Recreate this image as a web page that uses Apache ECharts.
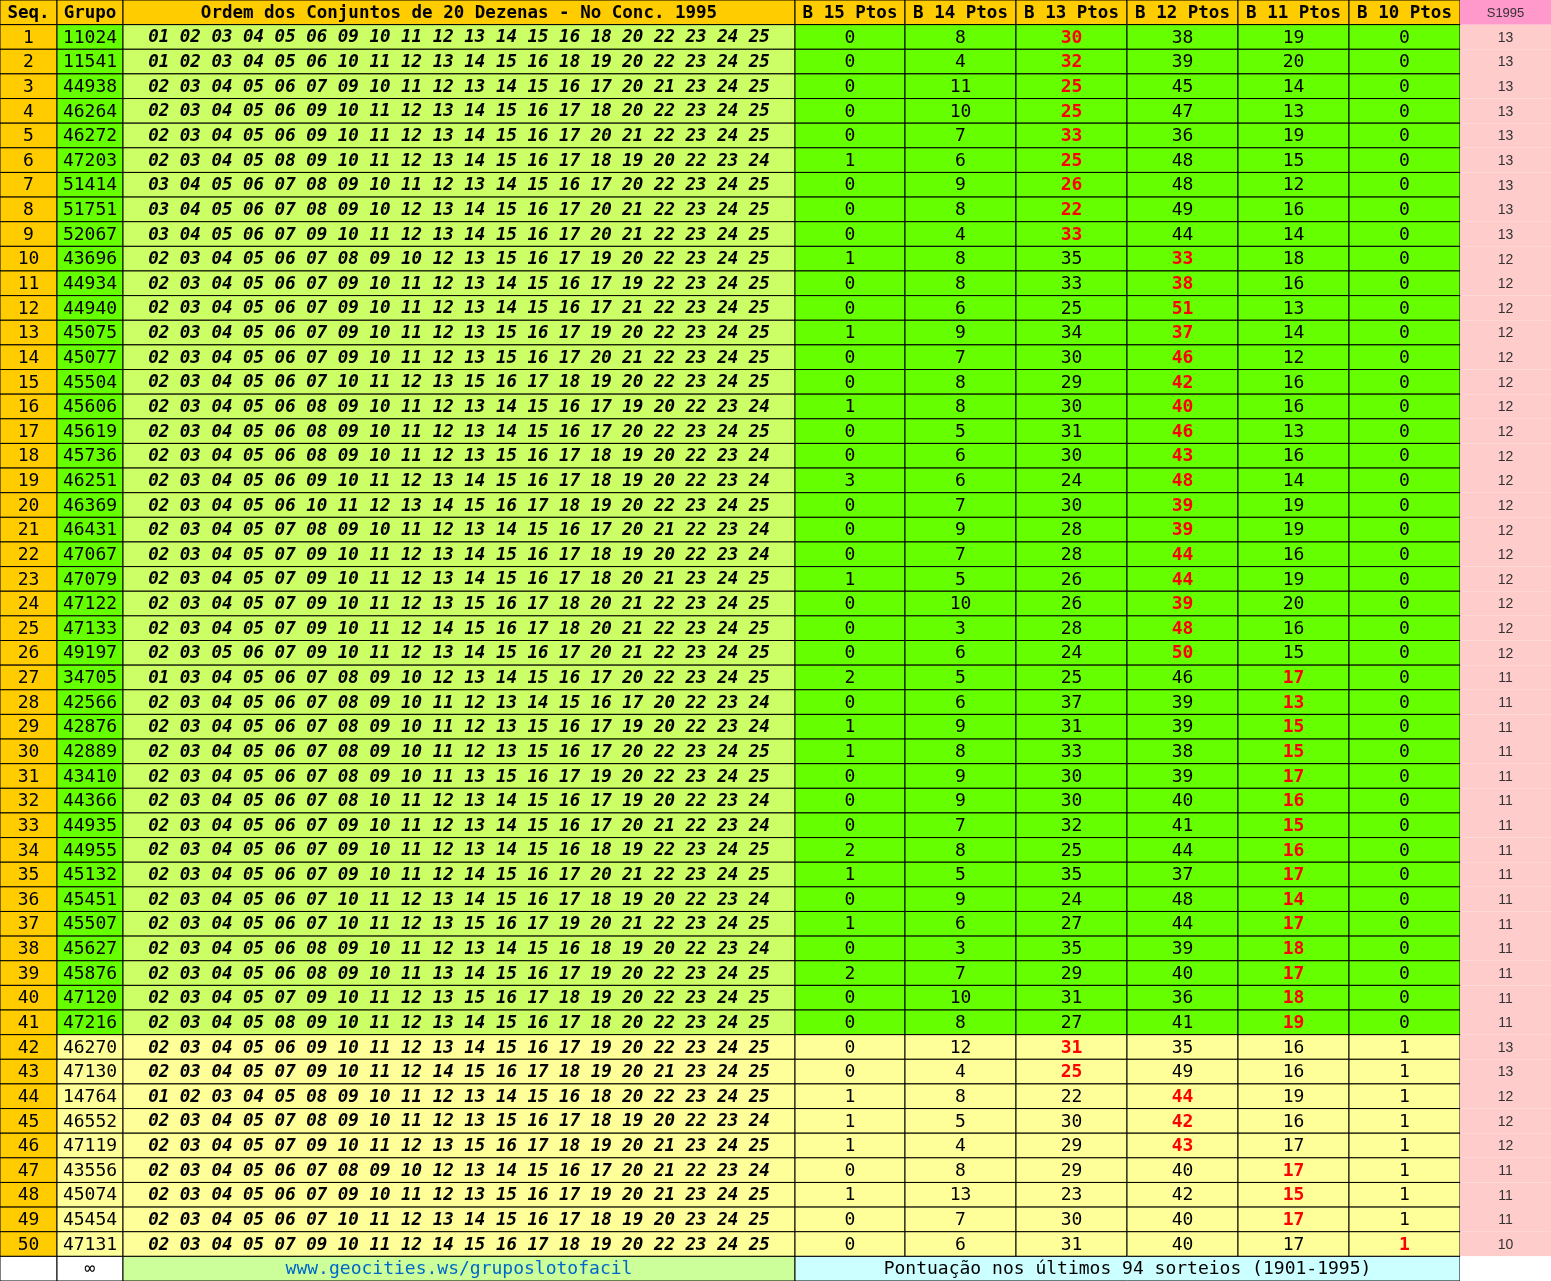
<!DOCTYPE html>
<html><head><meta charset="utf-8">
<script src="https://cdn.jsdelivr.net/npm/echarts@6/dist/echarts.min.js"></script>
<style>html,body{margin:0;padding:0;background:#fff}#c{width:1551px;height:1281px}</style>
</head><body><div id="c"></div>
<script>
const headers = ['Seq.','Grupo','Ordem dos Conjuntos de 20 Dezenas - No Conc. 1995','B 15 Ptos','B 14 Ptos','B 13 Ptos','B 12 Ptos','B 11 Ptos','B 10 Ptos','S1995'];
const grupos = [11024,11541,44938,46264,46272,47203,51414,51751,52067,43696,44934,44940,45075,45077,45504,45606,45619,45736,46251,46369,46431,47067,47079,47122,47133,49197,34705,42566,42876,42889,43410,44366,44935,44955,45132,45451,45507,45627,45876,47120,47216,46270,47130,14764,46552,47119,43556,45074,45454,47131];
const dezenas = [
"01 02 03 04 05 06 09 10 11 12 13 14 15 16 18 20 22 23 24 25",
"01 02 03 04 05 06 10 11 12 13 14 15 16 18 19 20 22 23 24 25",
"02 03 04 05 06 07 09 10 11 12 13 14 15 16 17 20 21 23 24 25",
"02 03 04 05 06 09 10 11 12 13 14 15 16 17 18 20 22 23 24 25",
"02 03 04 05 06 09 10 11 12 13 14 15 16 17 20 21 22 23 24 25",
"02 03 04 05 08 09 10 11 12 13 14 15 16 17 18 19 20 22 23 24",
"03 04 05 06 07 08 09 10 11 12 13 14 15 16 17 20 22 23 24 25",
"03 04 05 06 07 08 09 10 12 13 14 15 16 17 20 21 22 23 24 25",
"03 04 05 06 07 09 10 11 12 13 14 15 16 17 20 21 22 23 24 25",
"02 03 04 05 06 07 08 09 10 12 13 15 16 17 19 20 22 23 24 25",
"02 03 04 05 06 07 09 10 11 12 13 14 15 16 17 19 22 23 24 25",
"02 03 04 05 06 07 09 10 11 12 13 14 15 16 17 21 22 23 24 25",
"02 03 04 05 06 07 09 10 11 12 13 15 16 17 19 20 22 23 24 25",
"02 03 04 05 06 07 09 10 11 12 13 15 16 17 20 21 22 23 24 25",
"02 03 04 05 06 07 10 11 12 13 15 16 17 18 19 20 22 23 24 25",
"02 03 04 05 06 08 09 10 11 12 13 14 15 16 17 19 20 22 23 24",
"02 03 04 05 06 08 09 10 11 12 13 14 15 16 17 20 22 23 24 25",
"02 03 04 05 06 08 09 10 11 12 13 15 16 17 18 19 20 22 23 24",
"02 03 04 05 06 09 10 11 12 13 14 15 16 17 18 19 20 22 23 24",
"02 03 04 05 06 10 11 12 13 14 15 16 17 18 19 20 22 23 24 25",
"02 03 04 05 07 08 09 10 11 12 13 14 15 16 17 20 21 22 23 24",
"02 03 04 05 07 09 10 11 12 13 14 15 16 17 18 19 20 22 23 24",
"02 03 04 05 07 09 10 11 12 13 14 15 16 17 18 20 21 23 24 25",
"02 03 04 05 07 09 10 11 12 13 15 16 17 18 20 21 22 23 24 25",
"02 03 04 05 07 09 10 11 12 14 15 16 17 18 20 21 22 23 24 25",
"02 03 05 06 07 09 10 11 12 13 14 15 16 17 20 21 22 23 24 25",
"01 03 04 05 06 07 08 09 10 12 13 14 15 16 17 20 22 23 24 25",
"02 03 04 05 06 07 08 09 10 11 12 13 14 15 16 17 20 22 23 24",
"02 03 04 05 06 07 08 09 10 11 12 13 15 16 17 19 20 22 23 24",
"02 03 04 05 06 07 08 09 10 11 12 13 15 16 17 20 22 23 24 25",
"02 03 04 05 06 07 08 09 10 11 13 15 16 17 19 20 22 23 24 25",
"02 03 04 05 06 07 08 10 11 12 13 14 15 16 17 19 20 22 23 24",
"02 03 04 05 06 07 09 10 11 12 13 14 15 16 17 20 21 22 23 24",
"02 03 04 05 06 07 09 10 11 12 13 14 15 16 18 19 22 23 24 25",
"02 03 04 05 06 07 09 10 11 12 14 15 16 17 20 21 22 23 24 25",
"02 03 04 05 06 07 10 11 12 13 14 15 16 17 18 19 20 22 23 24",
"02 03 04 05 06 07 10 11 12 13 15 16 17 19 20 21 22 23 24 25",
"02 03 04 05 06 08 09 10 11 12 13 14 15 16 18 19 20 22 23 24",
"02 03 04 05 06 08 09 10 11 13 14 15 16 17 19 20 22 23 24 25",
"02 03 04 05 07 09 10 11 12 13 15 16 17 18 19 20 22 23 24 25",
"02 03 04 05 08 09 10 11 12 13 14 15 16 17 18 20 22 23 24 25",
"02 03 04 05 06 09 10 11 12 13 14 15 16 17 19 20 22 23 24 25",
"02 03 04 05 07 09 10 11 12 14 15 16 17 18 19 20 21 23 24 25",
"01 02 03 04 05 08 09 10 11 12 13 14 15 16 18 20 22 23 24 25",
"02 03 04 05 07 08 09 10 11 12 13 15 16 17 18 19 20 22 23 24",
"02 03 04 05 07 09 10 11 12 13 15 16 17 18 19 20 21 23 24 25",
"02 03 04 05 06 07 08 09 10 12 13 14 15 16 17 20 21 22 23 24",
"02 03 04 05 06 07 09 10 11 12 13 15 16 17 19 20 21 23 24 25",
"02 03 04 05 06 07 10 11 12 13 14 15 16 17 18 19 20 23 24 25",
"02 03 04 05 07 09 10 11 12 14 15 16 17 18 19 20 22 23 24 25"];
const b15 = [0,0,0,0,0,1,0,0,0,1,0,0,1,0,0,1,0,0,3,0,0,0,1,0,0,0,2,0,1,1,0,0,0,2,1,0,1,0,2,0,0,0,0,1,1,1,0,1,0,0];
const b14 = [8,4,11,10,7,6,9,8,4,8,8,6,9,7,8,8,5,6,6,7,9,7,5,10,3,6,5,6,9,8,9,9,7,8,5,9,6,3,7,10,8,12,4,8,5,4,8,13,7,6];
const b13 = [30,32,25,25,33,25,26,22,33,35,33,25,34,30,29,30,31,30,24,30,28,28,26,26,28,24,25,37,31,33,30,30,32,25,35,24,27,35,29,31,27,31,25,22,30,29,29,23,30,31];
const b12 = [38,39,45,47,36,48,48,49,44,33,38,51,37,46,42,40,46,43,48,39,39,44,44,39,48,50,46,39,39,38,39,40,41,44,37,48,44,39,40,36,41,35,49,44,42,43,40,42,40,40];
const b11 = [19,20,14,13,19,15,12,16,14,18,16,13,14,12,16,16,13,16,14,19,19,16,19,20,16,15,17,13,15,15,17,16,15,16,17,14,17,18,17,18,19,16,16,19,16,17,17,15,17,17];
const b10 = [0,0,0,0,0,0,0,0,0,0,0,0,0,0,0,0,0,0,0,0,0,0,0,0,0,0,0,0,0,0,0,0,0,0,0,0,0,0,0,0,0,1,1,1,1,1,1,1,1,1];
const s1995 = [13,13,13,13,13,13,13,13,13,12,12,12,12,12,12,12,12,12,12,12,12,12,12,12,12,12,11,11,11,11,11,11,11,11,11,11,11,11,11,11,11,13,13,12,12,12,11,11,11,10];
const footer = ['', '∞', 'www.geocities.ws/gruposlotofacil', 'Pontuação nos últimos 94 sorteios (1901-1995)', ''];

const edges = [0,57,123,795,905,1016,1127,1238,1349,1460,1551];
const nRows = 52;
const mono = '"DejaVu Sans Mono", monospace';
const sans = 'Arial, "Liberation Sans"';
const cells = [];
headers.forEach((h,i)=>cells.push({c0:i,c1:i+1,r:0,text:h,bg:i===9?'#FF99CC':'#FFCC00',color:i===9?'#333':'#000',
  font:i===9?'normal 13px '+sans:'bold 17.5px '+mono,border:i!==9}));
const bcols=[b15,b14,b13,b12,b11,b10];
for(let k=0;k<50;k++){
  const r=k+1, green=b10[k]===0;
  const bgB = green?'#66FF00':'#FFFF99';
  cells.push({c0:0,c1:1,r,text:String(k+1),bg:'#FFCC00',color:'#000',font:'normal 18px '+mono,border:true});
  cells.push({c0:1,c1:2,r,text:String(grupos[k]),bg:bgB,color:'#000',font:'normal 18px '+mono,border:true});
  cells.push({c0:2,c1:3,r,text:dezenas[k],bg:green?'#CCFF66':'#FFFF99',color:'#000',font:'italic bold 17.5px '+mono,border:true});
  const redCol = 3+(15-s1995[k]);
  bcols.forEach((arr,j)=>{
    const c=3+j, red=c===redCol;
    cells.push({c0:c,c1:c+1,r,text:String(arr[k]),bg:bgB,color:red?'#FF0000':'#000',font:(red?'bold':'normal')+' 18px '+mono,border:true});
  });
  cells.push({c0:9,c1:10,r,text:String(s1995[k]),bg:'#FFCCCC',color:'#333',font:'normal 14px '+sans,border:false});
}
const fspans=[[0,1,'#FFFFFF','#000'],[1,2,'#FFFFFF','#000'],[2,3,'#CCFF99','#0066CC'],[3,9,'#CCFFFF','#000'],[9,10,'#FFFFFF','#000']];
fspans.forEach((s,i)=>cells.push({c0:s[0],c1:s[1],r:51,text:footer[i],bg:s[2],color:s[3],font:'normal 18px '+mono,border:i<4}));

const chart = echarts.init(document.getElementById('c'));
chart.setOption({
  animation:false,
  grid:{left:0,right:0,top:0,bottom:0},
  xAxis:{type:'value',min:0,max:1551,show:false},
  yAxis:{type:'category',data:Array.from({length:nRows},(_,i)=>i),inverse:true,show:false},
  series:[{
    type:'custom',
    data:cells.map(c=>[c.c0,c.c1,c.r]),
    renderItem:(params,api)=>{
      const cell=cells[params.dataIndex];
      const a=api.coord([edges[cell.c0],cell.r]);
      const b=api.coord([edges[cell.c1],cell.r]);
      const h=api.size([0,1])[1];
      const x=a[0],y=a[1]-h/2,w=b[0]-a[0];
      return {type:'group',children:[
        {type:'rect',shape:{x:x,y:y,width:w,height:h},
         style:{fill:cell.bg,stroke:cell.border?'#000':null,lineWidth:cell.border?1:0}},
        {type:'text',style:{x:x+w/2,y:y+h/2+1,text:cell.text,fill:cell.color,font:cell.font,align:'center',verticalAlign:'middle'}}
      ]};
    }
  }]
});
</script></body></html>
